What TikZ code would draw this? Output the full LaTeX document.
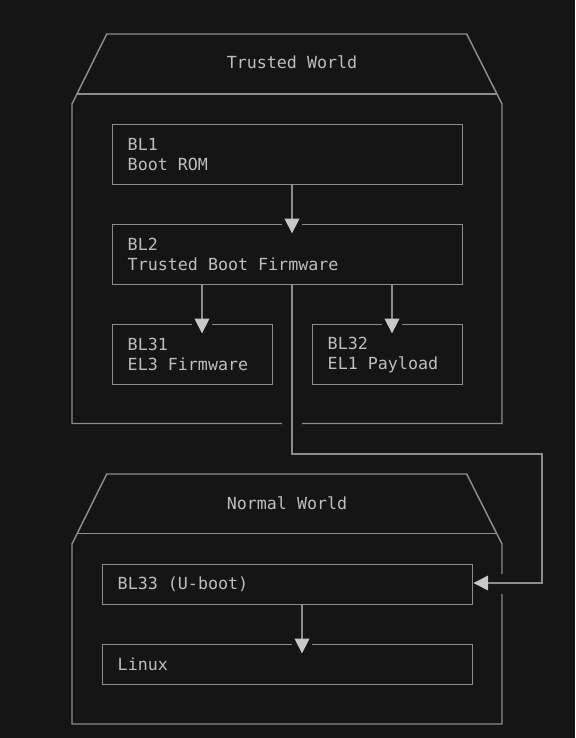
\documentclass[tikz,border=0pt]{standalone}
\usepackage{fontspec}
\newfontfamily\monof{DejaVu Sans Mono}
\newcommand\mysz{\monof\fontsize{12.5}{15}\selectfont\spaceskip=0.602em\relax\xspaceskip=0.602em\relax}
\usetikzlibrary{arrows.meta,calc}
\definecolor{bg}{HTML}{151515}
\definecolor{linec}{HTML}{8C8C8C}
\definecolor{tipc}{HTML}{C8C8C8}
\definecolor{txtc}{HTML}{BEBEBE}
\begin{document}
\begin{tikzpicture}[x=0.75pt,y=-0.75pt,
  frame/.style={draw=linec,line width=1.1pt},
  blk/.style={frame,rectangle,inner xsep=11.25pt,inner ysep=0pt,align=left,
    text=txtc,font=\mysz,anchor=north west,
    execute at begin node={\spaceskip=0.602em\relax\xspaceskip=0.602em\relax}},
  lbl/.style={text=txtc,font=\mysz,anchor=base,inner sep=0pt},
  arr/.style={draw=linec,line width=1.1pt,-{Triangle[length=11pt,width=11pt,color=tipc]}},
  gap/.style={fill=bg}]
\fill[bg] (0,0) rectangle (575,738);
\useasboundingbox (0,0) rectangle (575,738);

% Trusted World container
\draw[frame,line join=miter] (106.7,34) -- (466.7,34) -- (502,104) -- (502,423.5) -- (72,423.5) -- (72,104) -- cycle;
\draw[frame] (76.7,94) -- (496.7,94);
\node[lbl] (tw) at (292,69) {Trusted World};

% Normal World container
\draw[frame,line join=miter] (106.7,474) -- (466.7,474) -- (502,544) -- (502,724) -- (72,724) -- (72,544) -- cycle;
\draw[frame] (76.7,533.5) -- (496.7,533.5);
\node[lbl] (nw) at (287,509.5) {Normal World};

% Blocks
\node[blk,text width=240pt,minimum height=45pt] (bl1) at (112,124) {BL1\\Boot ROM};
\node[blk,text width=240pt,minimum height=45pt] (bl2) at (112,224) {BL2\\Trusted Boot Firmware};
\node[blk,text width=97.5pt,minimum height=45pt] (bl31) at (112,324) {BL31\\EL3 Firmware};
\node[blk,text width=90pt,minimum height=45pt] (bl32) at (312,324) {BL32\\EL1 Payload};
\node[blk,text width=255pt,minimum height=30pt] (bl33) at (102,564) {BL33 (U-boot)};
\node[blk,text width=255pt,minimum height=30pt] (linux) at (102,644) {Linux};

% gaps in edges under arrowheads / crossings
\fill[gap] (282,221) rectangle (302,227);
\fill[gap] (192,321) rectangle (212,327);
\fill[gap] (382,321) rectangle (402,327);
\fill[gap] (292,641) rectangle (312,647);
\fill[gap] (282,420) rectangle (302,427);
\fill[gap] (498,573.5) rectangle (506,593.5);

% Connectors
\draw[arr,shorten >=-7pt] (bl1.south -| 292,0) -- (bl2.north -| 292,0);
\draw[arr,shorten >=-7pt] (bl2.south -| 202,0) -- (bl31.north -| 202,0);
\draw[arr,shorten >=-7pt] (bl2.south -| 392,0) -- (bl32.north -| 392,0);
\draw[arr,shorten >=-7pt] (bl33.south -| 302,0) -- (linux.north -| 302,0);
\coordinate (c1) at (292,454);
\coordinate (c2) at (542,454);
\coordinate (c3) at (542,583);
\draw[arr] (bl2.south -| c1) -- (c1) -- (c2) -- (c3) -- (bl33.east |- c3);
\end{tikzpicture}
\end{document}
